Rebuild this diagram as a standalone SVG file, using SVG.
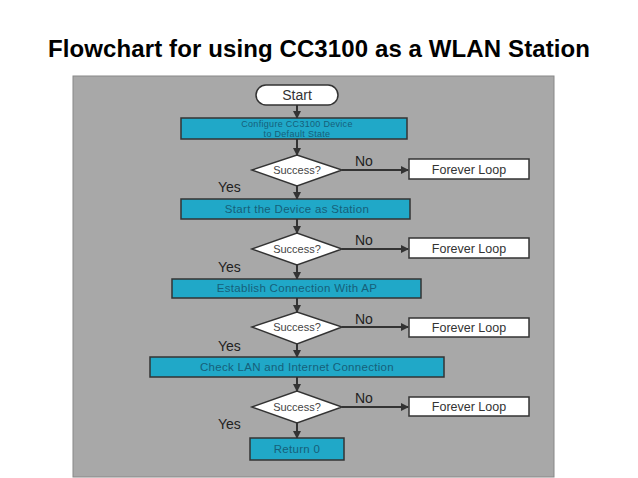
<svg xmlns="http://www.w3.org/2000/svg" width="638" height="478" viewBox="0 0 638 478">
<style>
.t{font-family:"Liberation Sans",Arial,sans-serif}
.p{fill:#20a8c8;stroke:#333;stroke-width:1.5}
.pt{fill:#16607a;font-size:11.5px;text-anchor:middle;letter-spacing:0.3px}
.pt2{fill:#16607a;font-size:9px;text-anchor:middle;letter-spacing:0.3px}
.d{fill:#fff;stroke:#333;stroke-width:1.5}
.dt{fill:#444;font-size:11px;text-anchor:middle}
.f{fill:#fff;stroke:#333;stroke-width:1.5}
.ft{fill:#333;font-size:12.5px;text-anchor:middle}
.lb{fill:#222;font-size:14px}
.c{stroke:#333;stroke-width:2;fill:none;marker-end:url(#a)}
</style>
<defs><marker id="a" markerWidth="8" markerHeight="8" refX="7" refY="4" orient="auto" markerUnits="userSpaceOnUse"><path d="M0,0L8,4L0,8z" fill="#333"/></marker></defs>
<rect width="638" height="478" fill="#fff"/>
<text class="t" x="319" y="57" text-anchor="middle" font-size="24" font-weight="bold" fill="#000" textLength="542">Flowchart for using CC3100 as a WLAN Station</text>
<rect x="73" y="76" width="481" height="401" fill="#a8a8a8" stroke="#888"/>
<g id="connectors">
<line class="c" x1="297" y1="105" x2="297" y2="118"/>
<line class="c" x1="297" y1="139" x2="297" y2="155"/>
<line class="c" x1="297" y1="186" x2="297" y2="199"/>
<line class="c" x1="297" y1="219" x2="297" y2="233"/>
<line class="c" x1="297" y1="265" x2="297" y2="279"/>
<line class="c" x1="297" y1="298" x2="297" y2="312"/>
<line class="c" x1="297" y1="344" x2="297" y2="357"/>
<line class="c" x1="297" y1="377" x2="297" y2="391"/>
<line class="c" x1="297" y1="423" x2="297" y2="438"/>
<line class="c" x1="342" y1="170" x2="408" y2="170"/>
<line class="c" x1="342" y1="249" x2="408" y2="249"/>
<line class="c" x1="342" y1="327" x2="408" y2="327"/>
<line class="c" x1="342" y1="407" x2="408" y2="407"/>
<text class="t lb" x="355" y="166">No</text>
<text class="t lb" x="355" y="245">No</text>
<text class="t lb" x="355" y="324">No</text>
<text class="t lb" x="355" y="403">No</text>
<text class="t lb" x="218" y="192">Yes</text>
<text class="t lb" x="218" y="272">Yes</text>
<text class="t lb" x="218" y="351">Yes</text>
<text class="t lb" x="218" y="429">Yes</text>
</g>
<g id="start"><rect x="256" y="85" width="82" height="20" rx="10" fill="#fff" stroke="#333" stroke-width="1.5"/><text class="t" x="297" y="100" text-anchor="middle" font-size="14" fill="#333">Start</text></g>
<g id="configure"><rect class="p" x="181" y="118" width="226" height="21"/><text class="t pt2" x="297" y="127">Configure CC3100 Device</text><text class="t pt2" x="297" y="137">to Default State</text></g>
<g id="dec1"><polygon class="d" points="252,170 297,155 342,170 297,186"/><text class="t dt" x="297" y="174">Success?</text></g>
<g id="loop1"><rect class="f" x="409" y="159" width="120" height="20"/><text class="t ft" x="469" y="174">Forever Loop</text></g>
<g id="startdev"><rect class="p" x="181" y="199" width="229" height="20"/><text class="t pt" x="297" y="213">Start the Device as Station</text></g>
<g id="dec2"><polygon class="d" points="252,249 297,233 342,249 297,265"/><text class="t dt" x="297" y="253">Success?</text></g>
<g id="loop2"><rect class="f" x="409" y="238" width="120" height="20"/><text class="t ft" x="469" y="253">Forever Loop</text></g>
<g id="establish"><rect class="p" x="172" y="279" width="249" height="19"/><text class="t pt" x="297" y="292">Establish Connection With AP</text></g>
<g id="dec3"><polygon class="d" points="252,327 297,312 342,327 297,344"/><text class="t dt" x="297" y="331">Success?</text></g>
<g id="loop3"><rect class="f" x="409" y="318" width="120" height="19"/><text class="t ft" x="469" y="332">Forever Loop</text></g>
<g id="check"><rect class="p" x="150" y="357" width="294" height="20"/><text class="t pt" x="297" y="371">Check LAN and Internet Connection</text></g>
<g id="dec4"><polygon class="d" points="252,407 297,391 342,407 297,423"/><text class="t dt" x="297" y="411">Success?</text></g>
<g id="loop4"><rect class="f" x="409" y="397" width="120" height="19"/><text class="t ft" x="469" y="411">Forever Loop</text></g>
<g id="return"><rect class="p" x="250" y="438" width="94" height="22"/><text class="t pt" x="297" y="453">Return 0</text></g>
</svg>
